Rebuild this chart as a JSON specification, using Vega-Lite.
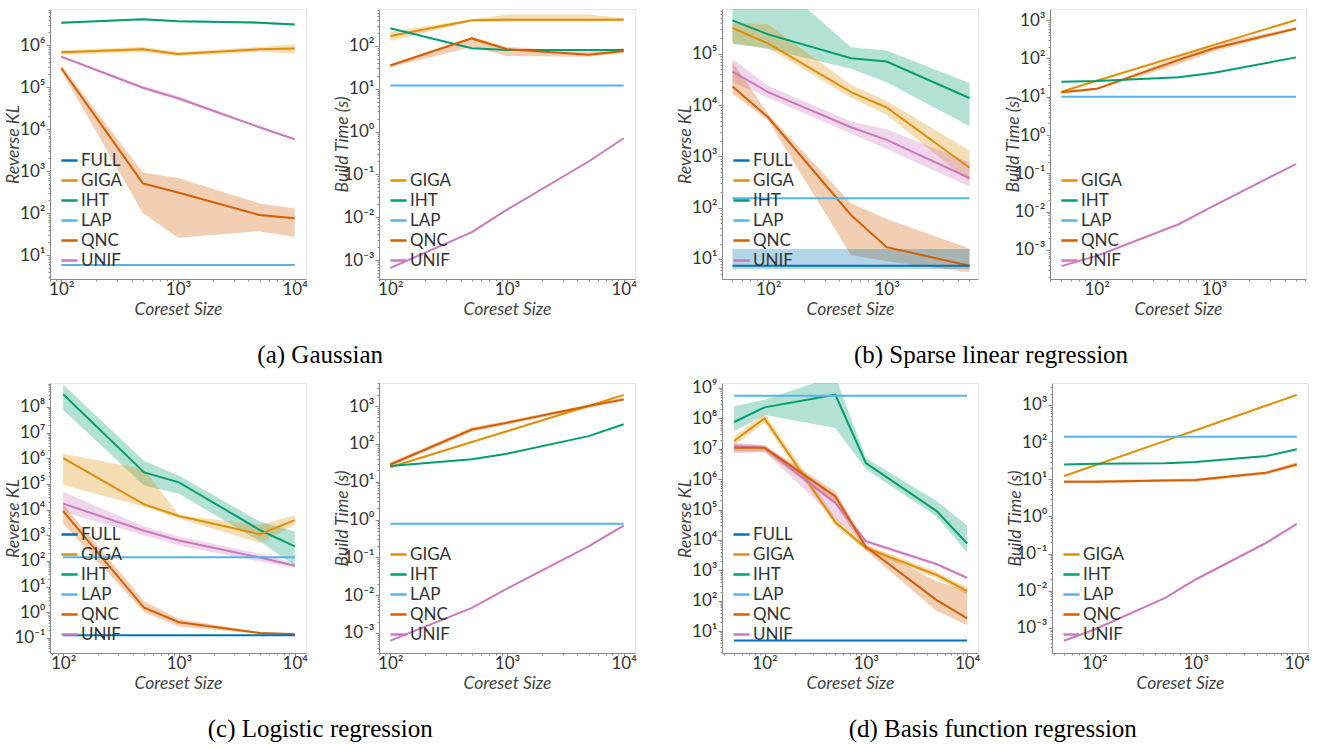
{
  "$schema": "https://vega.github.io/schema/vega-lite/v6.json",
  "padding": {"left": 3, "top": 0, "right": 2, "bottom": 2},
  "data": {
    "values": [
      {"p": "a1", "m": "IHT", "n": 100, "v": 3.4e6, "lo": 3.2e6, "hi": 3.6e6},
      {"p": "a1", "m": "IHT", "n": 500, "v": 4.1e6, "lo": 3.9e6, "hi": 4.3e6},
      {"p": "a1", "m": "IHT", "n": 1000, "v": 3.7e6, "lo": 3.5e6, "hi": 3.9e6},
      {"p": "a1", "m": "IHT", "n": 5000, "v": 3.4e6, "lo": 3.2e6, "hi": 3.6e6},
      {"p": "a1", "m": "IHT", "n": 10000, "v": 3.1e6, "lo": 2.9e6, "hi": 3.3e6},
      {"p": "a1", "m": "GIGA", "n": 100, "v": 6.7e5, "lo": 5.9e5, "hi": 7.5e5},
      {"p": "a1", "m": "GIGA", "n": 500, "v": 7.9e5, "lo": 6.8e5, "hi": 9.0e5},
      {"p": "a1", "m": "GIGA", "n": 1000, "v": 6.1e5, "lo": 5.4e5, "hi": 6.8e5},
      {"p": "a1", "m": "GIGA", "n": 5000, "v": 7.9e5, "lo": 6.9e5, "hi": 8.9e5},
      {"p": "a1", "m": "GIGA", "n": 10000, "v": 8.3e5, "lo": 6.3e5, "hi": 1.04e6},
      {"p": "a1", "m": "UNIF", "n": 100, "v": 5.3e5, "lo": 5.0e5, "hi": 5.6e5},
      {"p": "a1", "m": "UNIF", "n": 500, "v": 9.6e4, "lo": 9.0e4, "hi": 1.08e5},
      {"p": "a1", "m": "UNIF", "n": 1000, "v": 5.4e4, "lo": 5.0e4, "hi": 6.2e4},
      {"p": "a1", "m": "UNIF", "n": 5000, "v": 1.1e4, "lo": 1.05e4, "hi": 1.15e4},
      {"p": "a1", "m": "UNIF", "n": 10000, "v": 5.7e3, "lo": 5.5e3, "hi": 5.9e3},
      {"p": "a1", "m": "QNC", "n": 100, "v": 2.8e5, "lo": 2.4e5, "hi": 3.3e5},
      {"p": "a1", "m": "QNC", "n": 500, "v": 510, "lo": 100, "hi": 930},
      {"p": "a1", "m": "QNC", "n": 1000, "v": 310, "lo": 26, "hi": 680},
      {"p": "a1", "m": "QNC", "n": 5000, "v": 90, "lo": 37, "hi": 170},
      {"p": "a1", "m": "QNC", "n": 10000, "v": 75, "lo": 27, "hi": 128},
      {"p": "a1", "m": "LAP", "n": 100, "v": 5.8},
      {"p": "a1", "m": "LAP", "n": 10000, "v": 5.8},

      {"p": "a2", "m": "GIGA", "n": 100, "v": 171, "lo": 130, "hi": 215},
      {"p": "a2", "m": "GIGA", "n": 500, "v": 400, "lo": 375, "hi": 420},
      {"p": "a2", "m": "GIGA", "n": 1000, "v": 410, "lo": 370, "hi": 540},
      {"p": "a2", "m": "GIGA", "n": 5000, "v": 410, "lo": 370, "hi": 540},
      {"p": "a2", "m": "GIGA", "n": 10000, "v": 410, "lo": 380, "hi": 450},
      {"p": "a2", "m": "IHT", "n": 100, "v": 260},
      {"p": "a2", "m": "IHT", "n": 500, "v": 88},
      {"p": "a2", "m": "IHT", "n": 1000, "v": 81},
      {"p": "a2", "m": "IHT", "n": 5000, "v": 80},
      {"p": "a2", "m": "IHT", "n": 10000, "v": 80},
      {"p": "a2", "m": "QNC", "n": 100, "v": 35, "lo": 32, "hi": 38},
      {"p": "a2", "m": "QNC", "n": 500, "v": 150, "lo": 95, "hi": 165},
      {"p": "a2", "m": "QNC", "n": 1000, "v": 84, "lo": 58, "hi": 95},
      {"p": "a2", "m": "QNC", "n": 5000, "v": 62, "lo": 56, "hi": 72},
      {"p": "a2", "m": "QNC", "n": 10000, "v": 76, "lo": 68, "hi": 90},
      {"p": "a2", "m": "LAP", "n": 100, "v": 12},
      {"p": "a2", "m": "LAP", "n": 10000, "v": 12},
      {"p": "a2", "m": "UNIF", "n": 100, "v": 0.00065},
      {"p": "a2", "m": "UNIF", "n": 500, "v": 0.0045},
      {"p": "a2", "m": "UNIF", "n": 1000, "v": 0.015},
      {"p": "a2", "m": "UNIF", "n": 5000, "v": 0.2},
      {"p": "a2", "m": "UNIF", "n": 10000, "v": 0.7},

      {"p": "b1", "m": "IHT", "n": 50, "v": 4.5e5, "lo": 1.57e5, "hi": 3e6},
      {"p": "b1", "m": "IHT", "n": 100, "v": 2.4e5, "lo": 1.25e5, "hi": 3.5e6},
      {"p": "b1", "m": "IHT", "n": 500, "v": 8.2e4, "lo": 5.1e4, "hi": 1.35e5},
      {"p": "b1", "m": "IHT", "n": 1000, "v": 7.1e4, "lo": 2.8e4, "hi": 1.16e5},
      {"p": "b1", "m": "IHT", "n": 5000, "v": 1.38e4, "lo": 3.9e3, "hi": 2.7e4},
      {"p": "b1", "m": "GIGA", "n": 50, "v": 3.2e5, "lo": 1.6e5, "hi": 4.0e5},
      {"p": "b1", "m": "GIGA", "n": 100, "v": 1.6e5, "lo": 1.3e5, "hi": 3.8e5},
      {"p": "b1", "m": "GIGA", "n": 500, "v": 1.8e4, "lo": 1.4e4, "hi": 2.5e4},
      {"p": "b1", "m": "GIGA", "n": 1000, "v": 9e3, "lo": 6.5e3, "hi": 1.2e4},
      {"p": "b1", "m": "GIGA", "n": 5000, "v": 600, "lo": 320, "hi": 1300},
      {"p": "b1", "m": "UNIF", "n": 50, "v": 4.5e4, "lo": 2.8e4, "hi": 8e4},
      {"p": "b1", "m": "UNIF", "n": 100, "v": 1.8e4, "lo": 1.4e4, "hi": 2.4e4},
      {"p": "b1", "m": "UNIF", "n": 500, "v": 3.7e3, "lo": 2.8e3, "hi": 4.8e3},
      {"p": "b1", "m": "UNIF", "n": 1000, "v": 2.1e3, "lo": 1.4e3, "hi": 3.4e3},
      {"p": "b1", "m": "UNIF", "n": 5000, "v": 380, "lo": 260, "hi": 770},
      {"p": "b1", "m": "QNC", "n": 50, "v": 2.3e4, "lo": 1.66e4, "hi": 6.9e4},
      {"p": "b1", "m": "QNC", "n": 100, "v": 5.8e3, "lo": 5e3, "hi": 6.7e3},
      {"p": "b1", "m": "QNC", "n": 500, "v": 72, "lo": 12, "hi": 122},
      {"p": "b1", "m": "QNC", "n": 1000, "v": 17, "lo": 9, "hi": 60},
      {"p": "b1", "m": "QNC", "n": 5000, "v": 7.4, "lo": 5.5, "hi": 16},
      {"p": "b1", "m": "LAP", "n": 50, "v": 153},
      {"p": "b1", "m": "LAP", "n": 5000, "v": 153},
      {"p": "b1", "m": "FULL", "n": 50, "v": 7.4, "lo": 6.4, "hi": 15.7},
      {"p": "b1", "m": "FULL", "n": 5000, "v": 7.4, "lo": 6.4, "hi": 15.7},

      {"p": "b2", "m": "GIGA", "n": 50, "v": 13.5},
      {"p": "b2", "m": "GIGA", "n": 100, "v": 26},
      {"p": "b2", "m": "GIGA", "n": 500, "v": 117},
      {"p": "b2", "m": "GIGA", "n": 1000, "v": 225},
      {"p": "b2", "m": "GIGA", "n": 5000, "v": 1000},
      {"p": "b2", "m": "QNC", "n": 50, "v": 13, "lo": 12, "hi": 14},
      {"p": "b2", "m": "QNC", "n": 100, "v": 16, "lo": 15, "hi": 17},
      {"p": "b2", "m": "QNC", "n": 500, "v": 91, "lo": 70, "hi": 110},
      {"p": "b2", "m": "QNC", "n": 1000, "v": 183, "lo": 150, "hi": 240},
      {"p": "b2", "m": "QNC", "n": 5000, "v": 600, "lo": 560, "hi": 640},
      {"p": "b2", "m": "IHT", "n": 50, "v": 24.5},
      {"p": "b2", "m": "IHT", "n": 100, "v": 25.5},
      {"p": "b2", "m": "IHT", "n": 500, "v": 32},
      {"p": "b2", "m": "IHT", "n": 1000, "v": 42},
      {"p": "b2", "m": "IHT", "n": 5000, "v": 106},
      {"p": "b2", "m": "LAP", "n": 50, "v": 10},
      {"p": "b2", "m": "LAP", "n": 5000, "v": 10},
      {"p": "b2", "m": "UNIF", "n": 50, "v": 0.00038},
      {"p": "b2", "m": "UNIF", "n": 100, "v": 0.0007},
      {"p": "b2", "m": "UNIF", "n": 500, "v": 0.0047},
      {"p": "b2", "m": "UNIF", "n": 1000, "v": 0.0144},
      {"p": "b2", "m": "UNIF", "n": 5000, "v": 0.175},

      {"p": "c1", "m": "IHT", "n": 100, "v": 3.1e8, "lo": 7.5e7, "hi": 7.4e8},
      {"p": "c1", "m": "IHT", "n": 500, "v": 2.8e5, "lo": 8.6e4, "hi": 7.8e5},
      {"p": "c1", "m": "IHT", "n": 1000, "v": 1.15e5, "lo": 4.1e4, "hi": 2.1e5},
      {"p": "c1", "m": "IHT", "n": 5000, "v": 1.6e3, "lo": 580, "hi": 3.4e3},
      {"p": "c1", "m": "IHT", "n": 10000, "v": 370, "lo": 65, "hi": 1.4e3},
      {"p": "c1", "m": "GIGA", "n": 100, "v": 1e6, "lo": 9.1e4, "hi": 1.5e6},
      {"p": "c1", "m": "GIGA", "n": 500, "v": 1.6e4, "lo": 1.3e4, "hi": 3.7e5},
      {"p": "c1", "m": "GIGA", "n": 1000, "v": 5.6e3, "lo": 4.5e3, "hi": 6e3},
      {"p": "c1", "m": "GIGA", "n": 5000, "v": 1.1e3, "lo": 500, "hi": 2.5e3},
      {"p": "c1", "m": "GIGA", "n": 10000, "v": 3.9e3, "lo": 2.5e3, "hi": 6e3},
      {"p": "c1", "m": "UNIF", "n": 100, "v": 1.7e4, "lo": 8e3, "hi": 4.8e4},
      {"p": "c1", "m": "UNIF", "n": 500, "v": 1.5e3, "lo": 1e3, "hi": 2.2e3},
      {"p": "c1", "m": "UNIF", "n": 1000, "v": 630, "lo": 400, "hi": 900},
      {"p": "c1", "m": "UNIF", "n": 5000, "v": 135, "lo": 95, "hi": 190},
      {"p": "c1", "m": "UNIF", "n": 10000, "v": 65, "lo": 55, "hi": 80},
      {"p": "c1", "m": "QNC", "n": 100, "v": 8.7e3, "lo": 2.9e3, "hi": 1.6e4},
      {"p": "c1", "m": "QNC", "n": 500, "v": 1.5, "lo": 1.0, "hi": 2.7},
      {"p": "c1", "m": "QNC", "n": 1000, "v": 0.41, "lo": 0.28, "hi": 0.55},
      {"p": "c1", "m": "QNC", "n": 5000, "v": 0.155, "lo": 0.145, "hi": 0.17},
      {"p": "c1", "m": "QNC", "n": 10000, "v": 0.14, "lo": 0.13, "hi": 0.16},
      {"p": "c1", "m": "LAP", "n": 100, "v": 140},
      {"p": "c1", "m": "LAP", "n": 10000, "v": 140},
      {"p": "c1", "m": "FULL", "n": 100, "v": 0.128},
      {"p": "c1", "m": "FULL", "n": 10000, "v": 0.128},

      {"p": "c2", "m": "GIGA", "n": 100, "v": 24},
      {"p": "c2", "m": "GIGA", "n": 500, "v": 112},
      {"p": "c2", "m": "GIGA", "n": 1000, "v": 216},
      {"p": "c2", "m": "GIGA", "n": 5000, "v": 1000},
      {"p": "c2", "m": "GIGA", "n": 10000, "v": 1950},
      {"p": "c2", "m": "QNC", "n": 100, "v": 28.5, "lo": 25, "hi": 32},
      {"p": "c2", "m": "QNC", "n": 500, "v": 240, "lo": 210, "hi": 275},
      {"p": "c2", "m": "QNC", "n": 1000, "v": 360, "lo": 320, "hi": 400},
      {"p": "c2", "m": "QNC", "n": 5000, "v": 1000, "lo": 900, "hi": 1100},
      {"p": "c2", "m": "QNC", "n": 10000, "v": 1500, "lo": 1350, "hi": 1650},
      {"p": "c2", "m": "IHT", "n": 100, "v": 26},
      {"p": "c2", "m": "IHT", "n": 500, "v": 39},
      {"p": "c2", "m": "IHT", "n": 1000, "v": 55},
      {"p": "c2", "m": "IHT", "n": 5000, "v": 160},
      {"p": "c2", "m": "IHT", "n": 10000, "v": 330},
      {"p": "c2", "m": "LAP", "n": 100, "v": 0.77},
      {"p": "c2", "m": "LAP", "n": 10000, "v": 0.77},
      {"p": "c2", "m": "UNIF", "n": 100, "v": 0.00063},
      {"p": "c2", "m": "UNIF", "n": 500, "v": 0.0046},
      {"p": "c2", "m": "UNIF", "n": 1000, "v": 0.0148},
      {"p": "c2", "m": "UNIF", "n": 5000, "v": 0.195},
      {"p": "c2", "m": "UNIF", "n": 10000, "v": 0.69},

      {"p": "d1", "m": "IHT", "n": 50, "v": 7.6e7, "lo": 3.75e7, "hi": 2.5e8},
      {"p": "d1", "m": "IHT", "n": 100, "v": 2.3e8, "lo": 1.3e8, "hi": 4.1e8},
      {"p": "d1", "m": "IHT", "n": 500, "v": 6e8, "lo": 4.8e7, "hi": 2.5e9},
      {"p": "d1", "m": "IHT", "n": 1000, "v": 3.4e6, "lo": 2.1e6, "hi": 5e6},
      {"p": "d1", "m": "IHT", "n": 5000, "v": 8.9e4, "lo": 5.9e4, "hi": 1.9e5},
      {"p": "d1", "m": "IHT", "n": 10000, "v": 7.6e3, "lo": 3.8e3, "hi": 3e4},
      {"p": "d1", "m": "GIGA", "n": 50, "v": 1.8e7, "lo": 1.3e7, "hi": 2.5e7},
      {"p": "d1", "m": "GIGA", "n": 100, "v": 1e8, "lo": 7e7, "hi": 1.5e8},
      {"p": "d1", "m": "GIGA", "n": 500, "v": 3.8e4, "lo": 2.8e4, "hi": 5.5e4},
      {"p": "d1", "m": "GIGA", "n": 1000, "v": 5.5e3, "lo": 4.5e3, "hi": 7e3},
      {"p": "d1", "m": "GIGA", "n": 5000, "v": 700, "lo": 550, "hi": 900},
      {"p": "d1", "m": "GIGA", "n": 10000, "v": 210, "lo": 160, "hi": 270},
      {"p": "d1", "m": "UNIF", "n": 50, "v": 1.2e7, "lo": 7e6, "hi": 1.6e7},
      {"p": "d1", "m": "UNIF", "n": 100, "v": 1.07e7, "lo": 8e6, "hi": 1.3e7},
      {"p": "d1", "m": "UNIF", "n": 500, "v": 1.66e5, "lo": 5e4, "hi": 3.2e5},
      {"p": "d1", "m": "UNIF", "n": 1000, "v": 9.1e3, "lo": 7.5e3, "hi": 1e4},
      {"p": "d1", "m": "UNIF", "n": 5000, "v": 1.6e3, "lo": 1.4e3, "hi": 1.8e3},
      {"p": "d1", "m": "UNIF", "n": 10000, "v": 560, "lo": 500, "hi": 620},
      {"p": "d1", "m": "QNC", "n": 50, "v": 1.07e7, "lo": 8e6, "hi": 1.4e7},
      {"p": "d1", "m": "QNC", "n": 100, "v": 1.07e7, "lo": 8e6, "hi": 1.3e7},
      {"p": "d1", "m": "QNC", "n": 500, "v": 2.7e5, "lo": 1.5e5, "hi": 4e5},
      {"p": "d1", "m": "QNC", "n": 1000, "v": 5.9e3, "lo": 4.5e3, "hi": 7e3},
      {"p": "d1", "m": "QNC", "n": 5000, "v": 105, "lo": 46, "hi": 440},
      {"p": "d1", "m": "QNC", "n": 10000, "v": 26, "lo": 16, "hi": 210},
      {"p": "d1", "m": "LAP", "n": 50, "v": 5.6e8},
      {"p": "d1", "m": "LAP", "n": 10000, "v": 5.6e8},
      {"p": "d1", "m": "FULL", "n": 50, "v": 4.9},
      {"p": "d1", "m": "FULL", "n": 10000, "v": 4.9},

      {"p": "d2", "m": "GIGA", "n": 50, "v": 12.2},
      {"p": "d2", "m": "GIGA", "n": 100, "v": 23.5},
      {"p": "d2", "m": "GIGA", "n": 500, "v": 108},
      {"p": "d2", "m": "GIGA", "n": 1000, "v": 209},
      {"p": "d2", "m": "GIGA", "n": 5000, "v": 964},
      {"p": "d2", "m": "GIGA", "n": 10000, "v": 1860},
      {"p": "d2", "m": "LAP", "n": 50, "v": 140},
      {"p": "d2", "m": "LAP", "n": 10000, "v": 140},
      {"p": "d2", "m": "IHT", "n": 50, "v": 25},
      {"p": "d2", "m": "IHT", "n": 100, "v": 26},
      {"p": "d2", "m": "IHT", "n": 500, "v": 27},
      {"p": "d2", "m": "IHT", "n": 1000, "v": 29},
      {"p": "d2", "m": "IHT", "n": 5000, "v": 42},
      {"p": "d2", "m": "IHT", "n": 10000, "v": 64},
      {"p": "d2", "m": "QNC", "n": 50, "v": 8.6, "lo": 7.8, "hi": 9.4},
      {"p": "d2", "m": "QNC", "n": 100, "v": 8.6, "lo": 7.8, "hi": 9.4},
      {"p": "d2", "m": "QNC", "n": 500, "v": 9.3, "lo": 8.5, "hi": 10.2},
      {"p": "d2", "m": "QNC", "n": 1000, "v": 9.5, "lo": 8.6, "hi": 10.4},
      {"p": "d2", "m": "QNC", "n": 5000, "v": 15, "lo": 13.5, "hi": 16.5},
      {"p": "d2", "m": "QNC", "n": 10000, "v": 25, "lo": 22, "hi": 29},
      {"p": "d2", "m": "UNIF", "n": 50, "v": 0.00045},
      {"p": "d2", "m": "UNIF", "n": 100, "v": 0.0009},
      {"p": "d2", "m": "UNIF", "n": 500, "v": 0.0064},
      {"p": "d2", "m": "UNIF", "n": 1000, "v": 0.02},
      {"p": "d2", "m": "UNIF", "n": 5000, "v": 0.195},
      {"p": "d2", "m": "UNIF", "n": 10000, "v": 0.63}
    ]
  },
  "spacing": 5,
  "resolve": {"scale": {"color": "independent", "fill": "independent"}, "legend": {"color": "independent"}},
  "vconcat": [
    {
      "spacing": 38,
      "resolve": {"scale": {"color": "independent", "fill": "independent"}, "legend": {"color": "independent"}},
      "hconcat": [
        {
          "title": "(a) Gaussian",
          "spacing": 24,
          "resolve": {"scale": {"color": "independent", "fill": "independent"}, "legend": {"color": "independent"}},
          "hconcat": [
            {
              "width": 256, "height": 270,
              "transform": [{"filter": "datum.p == 'a1'"}],
              "encoding": {"x": {"field": "n", "type": "quantitative", "scale": {"type": "log", "domain": [80, 12500], "nice": false}, "axis": {"title": "Coreset Size"}}},
              "layer": [
                {"mark": {"type": "area", "clip": true, "opacity": 0.3},
                 "encoding": {
                   "y": {"field": "lo", "type": "quantitative", "scale": {"type": "log", "domain": [2.7, 7.2e6], "nice": false}, "axis": {"title": "Reverse KL"}},
                   "y2": {"field": "hi"},
                   "fill": {"field": "m", "scale": {"domain": ["UNIF", "QNC", "LAP", "IHT", "GIGA", "FULL"], "range": ["#cc78bc", "#d55e00", "#56b4e9", "#029e73", "#de8f05", "#0173b2"]}, "legend": null}}},
                {"mark": {"type": "line", "clip": true, "strokeWidth": 2},
                 "encoding": {
                   "y": {"field": "v", "type": "quantitative", "scale": {"type": "log", "domain": [2.7, 7.2e6], "nice": false}, "axis": {"title": "Reverse KL"}},
                   "color": {"field": "m", "scale": {"domain": ["FULL", "GIGA", "IHT", "LAP", "QNC", "UNIF"], "range": ["#0173b2", "#de8f05", "#029e73", "#56b4e9", "#d55e00", "#cc78bc"]}, "legend": {"title": null, "orient": "bottom-left"}}}}
              ]
            },
            {
              "width": 256, "height": 270,
              "transform": [{"filter": "datum.p == 'a2'"}],
              "encoding": {"x": {"field": "n", "type": "quantitative", "scale": {"type": "log", "domain": [80, 12500], "nice": false}, "axis": {"title": "Coreset Size"}}},
              "layer": [
                {"mark": {"type": "area", "clip": true, "opacity": 0.3},
                 "encoding": {
                   "y": {"field": "lo", "type": "quantitative", "scale": {"type": "log", "domain": [0.00036, 730], "nice": false}, "axis": {"title": "Build Time (s)"}},
                   "y2": {"field": "hi"},
                   "fill": {"field": "m", "scale": {"domain": ["UNIF", "QNC", "LAP", "IHT", "GIGA"], "range": ["#cc78bc", "#d55e00", "#56b4e9", "#029e73", "#de8f05"]}, "legend": null}}},
                {"mark": {"type": "line", "clip": true, "strokeWidth": 2},
                 "encoding": {
                   "y": {"field": "v", "type": "quantitative", "scale": {"type": "log", "domain": [0.00036, 730], "nice": false}, "axis": {"title": "Build Time (s)"}},
                   "color": {"field": "m", "scale": {"domain": ["GIGA", "IHT", "LAP", "QNC", "UNIF"], "range": ["#de8f05", "#029e73", "#56b4e9", "#d55e00", "#cc78bc"]}, "legend": {"title": null, "orient": "bottom-left"}}}}
              ]
            }
          ]
        },
        {
          "title": "(b) Sparse linear regression",
          "spacing": 24,
          "resolve": {"scale": {"color": "independent", "fill": "independent"}, "legend": {"color": "independent"}},
          "hconcat": [
            {
              "width": 256, "height": 270,
              "transform": [{"filter": "datum.p == 'b1'"}],
              "encoding": {"x": {"field": "n", "type": "quantitative", "scale": {"type": "log", "domain": [40.8, 5900], "nice": false}, "axis": {"title": "Coreset Size"}}},
              "layer": [
                {"mark": {"type": "area", "clip": true, "opacity": 0.3},
                 "encoding": {
                   "y": {"field": "lo", "type": "quantitative", "scale": {"type": "log", "domain": [4.07, 7.5e5], "nice": false}, "axis": {"title": "Reverse KL"}},
                   "y2": {"field": "hi"},
                   "fill": {"field": "m", "scale": {"domain": ["UNIF", "QNC", "LAP", "IHT", "GIGA", "FULL"], "range": ["#cc78bc", "#d55e00", "#56b4e9", "#029e73", "#de8f05", "#0173b2"]}, "legend": null}}},
                {"mark": {"type": "line", "clip": true, "strokeWidth": 2},
                 "encoding": {
                   "y": {"field": "v", "type": "quantitative", "scale": {"type": "log", "domain": [4.07, 7.5e5], "nice": false}, "axis": {"title": "Reverse KL"}},
                   "color": {"field": "m", "scale": {"domain": ["FULL", "GIGA", "IHT", "LAP", "QNC", "UNIF"], "range": ["#0173b2", "#de8f05", "#029e73", "#56b4e9", "#d55e00", "#cc78bc"]}, "legend": {"title": null, "orient": "bottom-left"}}}}
              ]
            },
            {
              "width": 256, "height": 270,
              "transform": [{"filter": "datum.p == 'b2'"}],
              "encoding": {"x": {"field": "n", "type": "quantitative", "scale": {"type": "log", "domain": [40, 6080], "nice": false}, "axis": {"title": "Coreset Size"}}},
              "layer": [
                {"mark": {"type": "area", "clip": true, "opacity": 0.3},
                 "encoding": {
                   "y": {"field": "lo", "type": "quantitative", "scale": {"type": "log", "domain": [0.000175, 1940], "nice": false}, "axis": {"title": "Build Time (s)"}},
                   "y2": {"field": "hi"},
                   "fill": {"field": "m", "scale": {"domain": ["UNIF", "QNC", "LAP", "IHT", "GIGA"], "range": ["#cc78bc", "#d55e00", "#56b4e9", "#029e73", "#de8f05"]}, "legend": null}}},
                {"mark": {"type": "line", "clip": true, "strokeWidth": 2},
                 "encoding": {
                   "y": {"field": "v", "type": "quantitative", "scale": {"type": "log", "domain": [0.000175, 1940], "nice": false}, "axis": {"title": "Build Time (s)"}},
                   "color": {"field": "m", "scale": {"domain": ["GIGA", "IHT", "LAP", "QNC", "UNIF"], "range": ["#de8f05", "#029e73", "#56b4e9", "#d55e00", "#cc78bc"]}, "legend": {"title": null, "orient": "bottom-left"}}}}
              ]
            }
          ]
        }
      ]
    },
    {
      "spacing": 38,
      "resolve": {"scale": {"color": "independent", "fill": "independent"}, "legend": {"color": "independent"}},
      "hconcat": [
        {
          "title": "(c) Logistic regression",
          "spacing": 24,
          "resolve": {"scale": {"color": "independent", "fill": "independent"}, "legend": {"color": "independent"}},
          "hconcat": [
            {
              "width": 256, "height": 270,
              "transform": [{"filter": "datum.p == 'c1'"}],
              "encoding": {"x": {"field": "n", "type": "quantitative", "scale": {"type": "log", "domain": [77, 12500], "nice": false}, "axis": {"title": "Coreset Size"}}},
              "layer": [
                {"mark": {"type": "area", "clip": true, "opacity": 0.3},
                 "encoding": {
                   "y": {"field": "lo", "type": "quantitative", "scale": {"type": "log", "domain": [0.026, 8.5e8], "nice": false}, "axis": {"title": "Reverse KL"}},
                   "y2": {"field": "hi"},
                   "fill": {"field": "m", "scale": {"domain": ["UNIF", "QNC", "LAP", "IHT", "GIGA", "FULL"], "range": ["#cc78bc", "#d55e00", "#56b4e9", "#029e73", "#de8f05", "#0173b2"]}, "legend": null}}},
                {"mark": {"type": "line", "clip": true, "strokeWidth": 2},
                 "encoding": {
                   "y": {"field": "v", "type": "quantitative", "scale": {"type": "log", "domain": [0.026, 8.5e8], "nice": false}, "axis": {"title": "Reverse KL"}},
                   "color": {"field": "m", "scale": {"domain": ["FULL", "GIGA", "IHT", "LAP", "QNC", "UNIF"], "range": ["#0173b2", "#de8f05", "#029e73", "#56b4e9", "#d55e00", "#cc78bc"]}, "legend": {"title": null, "orient": "bottom-left"}}}}
              ]
            },
            {
              "width": 256, "height": 270,
              "transform": [{"filter": "datum.p == 'c2'"}],
              "encoding": {"x": {"field": "n", "type": "quantitative", "scale": {"type": "log", "domain": [80, 12500], "nice": false}, "axis": {"title": "Coreset Size"}}},
              "layer": [
                {"mark": {"type": "area", "clip": true, "opacity": 0.3},
                 "encoding": {
                   "y": {"field": "lo", "type": "quantitative", "scale": {"type": "log", "domain": [0.000296, 4060], "nice": false}, "axis": {"title": "Build Time (s)"}},
                   "y2": {"field": "hi"},
                   "fill": {"field": "m", "scale": {"domain": ["UNIF", "QNC", "LAP", "IHT", "GIGA"], "range": ["#cc78bc", "#d55e00", "#56b4e9", "#029e73", "#de8f05"]}, "legend": null}}},
                {"mark": {"type": "line", "clip": true, "strokeWidth": 2},
                 "encoding": {
                   "y": {"field": "v", "type": "quantitative", "scale": {"type": "log", "domain": [0.000296, 4060], "nice": false}, "axis": {"title": "Build Time (s)"}},
                   "color": {"field": "m", "scale": {"domain": ["GIGA", "IHT", "LAP", "QNC", "UNIF"], "range": ["#de8f05", "#029e73", "#56b4e9", "#d55e00", "#cc78bc"]}, "legend": {"title": null, "orient": "bottom-left"}}}}
              ]
            }
          ]
        },
        {
          "title": "(d) Basis function regression",
          "spacing": 24,
          "resolve": {"scale": {"color": "independent", "fill": "independent"}, "legend": {"color": "independent"}},
          "hconcat": [
            {
              "width": 256, "height": 270,
              "transform": [{"filter": "datum.p == 'd1'"}],
              "encoding": {"x": {"field": "n", "type": "quantitative", "scale": {"type": "log", "domain": [38, 12800], "nice": false}, "axis": {"title": "Coreset Size"}}},
              "layer": [
                {"mark": {"type": "area", "clip": true, "opacity": 0.3},
                 "encoding": {
                   "y": {"field": "lo", "type": "quantitative", "scale": {"type": "log", "domain": [1.9, 1.46e9], "nice": false}, "axis": {"title": "Reverse KL"}},
                   "y2": {"field": "hi"},
                   "fill": {"field": "m", "scale": {"domain": ["UNIF", "QNC", "LAP", "IHT", "GIGA", "FULL"], "range": ["#cc78bc", "#d55e00", "#56b4e9", "#029e73", "#de8f05", "#0173b2"]}, "legend": null}}},
                {"mark": {"type": "line", "clip": true, "strokeWidth": 2},
                 "encoding": {
                   "y": {"field": "v", "type": "quantitative", "scale": {"type": "log", "domain": [1.9, 1.46e9], "nice": false}, "axis": {"title": "Reverse KL"}},
                   "color": {"field": "m", "scale": {"domain": ["FULL", "GIGA", "IHT", "LAP", "QNC", "UNIF"], "range": ["#0173b2", "#de8f05", "#029e73", "#56b4e9", "#d55e00", "#cc78bc"]}, "legend": {"title": null, "orient": "bottom-left"}}}}
              ]
            },
            {
              "width": 256, "height": 270,
              "transform": [{"filter": "datum.p == 'd2'"}],
              "encoding": {"x": {"field": "n", "type": "quantitative", "scale": {"type": "log", "domain": [38, 12900], "nice": false}, "axis": {"title": "Coreset Size"}}},
              "layer": [
                {"mark": {"type": "area", "clip": true, "opacity": 0.3},
                 "encoding": {
                   "y": {"field": "lo", "type": "quantitative", "scale": {"type": "log", "domain": [0.00021, 3900], "nice": false}, "axis": {"title": "Build Time (s)"}},
                   "y2": {"field": "hi"},
                   "fill": {"field": "m", "scale": {"domain": ["UNIF", "QNC", "LAP", "IHT", "GIGA"], "range": ["#cc78bc", "#d55e00", "#56b4e9", "#029e73", "#de8f05"]}, "legend": null}}},
                {"mark": {"type": "line", "clip": true, "strokeWidth": 2},
                 "encoding": {
                   "y": {"field": "v", "type": "quantitative", "scale": {"type": "log", "domain": [0.00021, 3900], "nice": false}, "axis": {"title": "Build Time (s)"}},
                   "color": {"field": "m", "scale": {"domain": ["GIGA", "IHT", "LAP", "QNC", "UNIF"], "range": ["#de8f05", "#029e73", "#56b4e9", "#d55e00", "#cc78bc"]}, "legend": {"title": null, "orient": "bottom-left"}}}}
              ]
            }
          ]
        }
      ]
    }
  ],
  "config": {
    "font": "Lato",
    "view": {"stroke": "#e6e6e6"},
    "axis": {
      "grid": false,
      "domainColor": "#888",
      "tickColor": "#888",
      "labelColor": "#333",
      "titleColor": "#444",
      "labelFont": "Lato",
      "labelFontSize": 17,
      "labelPadding": 1,
      "titleFont": "Lato",
      "titleFontSize": 17.5,
      "titleFontStyle": "italic",
      "titleFontWeight": "normal",
      "tickCount": 12,
      "labelOverlap": false,
      "labelFlush": false,
      "labelBound": false,
      "labelExpr": "abs(log(datum.value)/LN10 - round(log(datum.value)/LN10)) < 0.01 ? '10' + ['⁻⁴','⁻³','⁻²','⁻¹','⁰','¹','²','³','⁴','⁵','⁶','⁷','⁸','⁹'][round(log(datum.value)/LN10) + 4] : ''",
      "tickSize": {"condition": {"test": "abs(log(datum.value)/LN10 - round(log(datum.value)/LN10)) < 0.01", "value": 4}, "value": 2}
    },
    "axisX": {"titlePadding": 3, "labelPadding": -2},
    "axisY": {"titleX": -37, "titleBaseline": "middle"},
    "legend": {
      "orient": "bottom-left",
      "offset": 10,
      "padding": 0,
      "symbolType": "stroke",
      "symbolStrokeWidth": 2.5,
      "symbolSize": 260,
      "labelFont": "Lato",
      "labelFontSize": 17,
      "labelColor": "#333",
      "labelOffset": 2,
      "rowPadding": 2
    },
    "title": {
      "orient": "bottom",
      "anchor": "middle",
      "font": "Liberation Serif",
      "fontSize": 25,
      "fontWeight": "normal",
      "color": "#000",
      "offset": 25
    }
  }
}
